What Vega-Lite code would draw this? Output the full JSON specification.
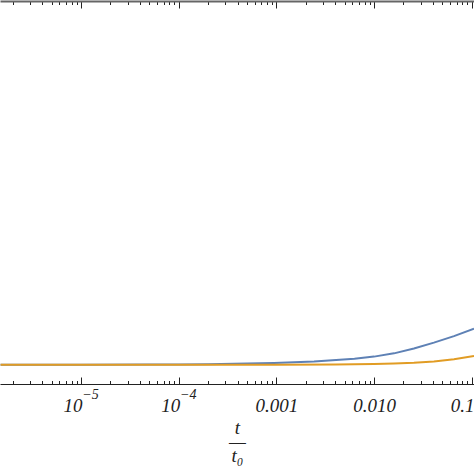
{
  "$schema": "https://vega.github.io/schema/vega-lite/v6.json",
  "autosize": "none",
  "width": 474,
  "height": 383,
  "padding": {"top": 1, "left": 0, "right": 0, "bottom": 90},
  "background": "white",
  "config": {"view": {"stroke": null}},
  "datasets": {
    "curves": [
      {"t": 0.0000015, "v": 1.0, "s": "a"},
      {"t": 0.00001, "v": 1.005, "s": "a"},
      {"t": 0.00005, "v": 1.012, "s": "a"},
      {"t": 0.0001, "v": 1.02, "s": "a"},
      {"t": 0.0002, "v": 1.035, "s": "a"},
      {"t": 0.000368, "v": 1.055, "s": "a"},
      {"t": 0.000944, "v": 1.1, "s": "a"},
      {"t": 0.00243, "v": 1.18, "s": "a"},
      {"t": 0.0063, "v": 1.32, "s": "a"},
      {"t": 0.01, "v": 1.43, "s": "a"},
      {"t": 0.016, "v": 1.6, "s": "a"},
      {"t": 0.0256, "v": 1.85, "s": "a"},
      {"t": 0.041, "v": 2.16, "s": "a"},
      {"t": 0.0658, "v": 2.5, "s": "a"},
      {"t": 0.1055, "v": 2.89, "s": "a"},
      {"t": 0.0000015, "v": 1.0, "s": "b"},
      {"t": 0.0001, "v": 1.0, "s": "b"},
      {"t": 0.001, "v": 1.005, "s": "b"},
      {"t": 0.004, "v": 1.018, "s": "b"},
      {"t": 0.01, "v": 1.045, "s": "b"},
      {"t": 0.016, "v": 1.07, "s": "b"},
      {"t": 0.0256, "v": 1.11, "s": "b"},
      {"t": 0.041, "v": 1.18, "s": "b"},
      {"t": 0.0658, "v": 1.29, "s": "b"},
      {"t": 0.1055, "v": 1.46, "s": "b"}
    ]
  },
  "data": {"name": "curves"},
  "resolve": {"axis": {"x": "independent"}},
  "layer": [
    {
      "transform": [{"filter": "datum.s === 'a'"}],
      "mark": {"type": "line", "opacity": 0},
      "encoding": {
        "x": {
          "field": "t", "type": "quantitative",
          "scale": {"type": "log", "domain": [0.00000148, 0.1055], "nice": false},
          "axis": {
            "orient": "bottom",
            "values": [0.000001, 0.00001, 0.0001],
            "labelExpr": "'−' + (-round(log(datum.value)/LN10))",
            "labelOverlap": false,
            "labelBound": false,
            "labelFlush": false,
            "labelFont": "Liberation Serif",
            "labelFontStyle": "italic",
            "labelFontSize": 14,
            "labelColor": "#222",
            "labelPadding": 3,
            "labelOffset": 9,
            "ticks": false,
            "tickSize": 0,
            "domain": false,
            "grid": false,
            "title": null
          }
        },
        "y": {"field": "v", "type": "quantitative", "scale": {"domain": [0, 20], "nice": false, "zero": false}, "axis": null}
      }
    },
    {
      "transform": [{"filter": "datum.s === 'a'"}],
      "mark": {"type": "line", "color": "#5E81B5", "strokeWidth": 2, "clip": true},
      "encoding": {
        "x": {
          "field": "t", "type": "quantitative",
          "scale": {"type": "log", "domain": [0.00000148, 0.1055], "nice": false},
          "axis": {
            "orient": "bottom",
            "values": [0.000001, 0.000002, 0.000003, 0.000004, 0.000005, 0.000006, 0.000007, 0.000008, 0.000009,
                       0.00001, 0.00002, 0.00003, 0.00004, 0.00005, 0.00006, 0.00007, 0.00008, 0.00009,
                       0.0001, 0.0002, 0.0003, 0.0004, 0.0005, 0.0006, 0.0007, 0.0008, 0.0009,
                       0.001, 0.002, 0.003, 0.004, 0.005, 0.006, 0.007, 0.008, 0.009,
                       0.01, 0.02, 0.03, 0.04, 0.05, 0.06, 0.07, 0.08, 0.09, 0.1],
            "labelExpr": "abs(log(datum.value)/LN10 - round(log(datum.value)/LN10)) > 0.001 ? '' : (datum.value < 0.0005 ? '10' : format(datum.value, '.3f'))",
            "labelOffset": {"condition": {"test": "datum.value < 0.0005", "value": -8.5}, "value": 0},
            "labelOverlap": false,
            "labelBound": false,
            "labelFlush": false,
            "labelFont": "Liberation Serif",
            "labelFontStyle": "italic",
            "labelFontSize": 19,
            "labelColor": "#222",
            "labelPadding": 19,
            "tickSize": {"condition": {"test": "abs(log(datum.value)/LN10 - round(log(datum.value)/LN10)) < 0.001", "value": -7}, "value": -3.5},
            "tickColor": "#222",
            "tickWidth": 1,
            "domainColor": "#222",
            "domainWidth": 1.2,
            "grid": false,
            "title": ["t", "—", "t₀"],
            "titleFont": "Liberation Serif",
            "titleFontStyle": "italic",
            "titleFontWeight": "normal",
            "titleFontSize": 19,
            "titleLineHeight": 14,
            "titleColor": "#222",
            "titlePadding": 0
          }
        },
        "y": {"field": "v", "type": "quantitative", "scale": {"domain": [0, 20], "nice": false, "zero": false}, "axis": null}
      }
    },
    {
      "transform": [{"filter": "datum.s === 'b'"}],
      "mark": {"type": "line", "color": "#E19C24", "strokeWidth": 2, "clip": true},
      "encoding": {
        "x": {
          "field": "t", "type": "quantitative",
          "scale": {"type": "log", "domain": [0.00000148, 0.1055], "nice": false},
          "axis": {
            "orient": "top",
            "values": [0.000001, 0.000002, 0.000003, 0.000004, 0.000005, 0.000006, 0.000007, 0.000008, 0.000009,
                       0.00001, 0.00002, 0.00003, 0.00004, 0.00005, 0.00006, 0.00007, 0.00008, 0.00009,
                       0.0001, 0.0002, 0.0003, 0.0004, 0.0005, 0.0006, 0.0007, 0.0008, 0.0009,
                       0.001, 0.002, 0.003, 0.004, 0.005, 0.006, 0.007, 0.008, 0.009,
                       0.01, 0.02, 0.03, 0.04, 0.05, 0.06, 0.07, 0.08, 0.09, 0.1],
            "labels": false,
            "tickSize": {"condition": {"test": "abs(log(datum.value)/LN10 - round(log(datum.value)/LN10)) < 0.001", "value": -7}, "value": -3.5},
            "tickColor": "#222",
            "tickWidth": 1,
            "domainColor": "#666",
            "domainWidth": 2,
            "grid": false,
            "title": null
          }
        },
        "y": {"field": "v", "type": "quantitative", "scale": {"domain": [0, 20], "nice": false, "zero": false}, "axis": null}
      }
    }
  ]
}
